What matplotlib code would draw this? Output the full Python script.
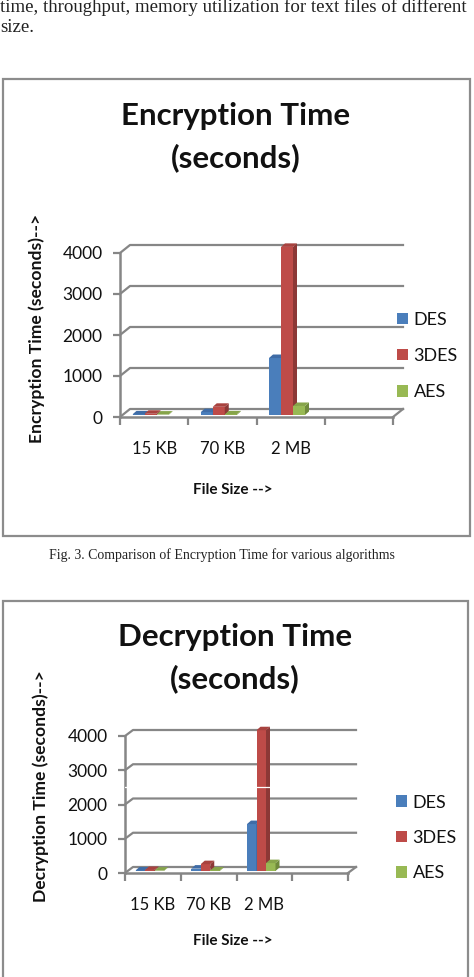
"""Two fake-3D clustered bar charts from a scanned page, Fig. 3 and the decryption one."""
import matplotlib
matplotlib.use("Agg")
import matplotlib.pyplot as plt
from matplotlib.patches import Polygon, Rectangle

W, H = 474, 977

categories = ["15 KB", "70 KB", "2 MB"]
series = ["DES", "3DES", "AES"]
yticks = [0, 1000, 2000, 3000, 4000]

enc_des = [15, 70, 1390]
enc_3des = [30, 200, 4100]
enc_aes = [10, 15, 220]

dec_des = [15, 70, 1370]
dec_3des = [30, 200, 4110]
dec_aes = [10, 15, 230]

front = ["#4a7ebb", "#be4b48", "#98b954"]
side = ["#37609a", "#8c3836", "#6f8a3c"]
top = ["#3f6ca6", "#a8423f", "#86a44a"]
GRAY = "#868686"

plt.rcParams["font.family"] = ["Lato", "DejaVu Sans"]

fig = plt.figure(figsize=(W / 100, H / 100), dpi=100)


def px_axes(x0, y0, x1, y1):
    # y0 is top, y1 is bottom, both in image pixels
    return fig.add_axes([x0 / W, 1 - y1 / H, (x1 - x0) / W, (y1 - y0) / H])


def fig_text(x, y, s, **kw):
    fig.text(x / W, 1 - y / H, s, **kw)


def draw_chart(box, plot, back, bar_off, bar_w, depth, values, legend_y):
    # page frame of the chart, kept behind the axes
    fig.add_artist(Rectangle((box[0] / W, 1 - box[3] / H), (box[2] - box[0]) / W,
                             (box[3] - box[1]) / H, transform=fig.transFigure,
                             fc="white", ec="#8c8c8c", lw=1.6, zorder=-1))

    ax = px_axes(*plot)
    ax.set_xlim(0, 4)
    ax.set_ylim(0, 4000)
    ax.patch.set_alpha(0)
    xs = (plot[2] - plot[0]) / 4  # pixels per category
    ys = (plot[3] - plot[1]) / 4000  # pixels per unit
    bx, by = back[0] / xs, back[1] / ys

    # back wall lines and the short diagonals to the front axis
    for t in yticks:
        ax.plot([0, bx, 4 + bx], [t, t + by, t + by], color=GRAY, lw=1.6,
                clip_on=False, zorder=1)
    ax.plot([4, 4 + bx], [0, by], color=GRAY, lw=1.6, clip_on=False, zorder=1)

    for s in ["top", "right"]:
        ax.spines[s].set_visible(False)
    for s in ["left", "bottom"]:
        ax.spines[s].set_color(GRAY)
        ax.spines[s].set_linewidth(1.8)

    ax.set_yticks(yticks)
    ax.set_xticks(range(5))
    ax.set_xticklabels([])
    ax.set_xticks([0.5, 1.5, 2.5], categories, minor=True)
    ax.tick_params(axis="x", which="major", length=6, width=1.6, color=GRAY, direction="out")
    ax.tick_params(axis="x", which="minor", length=0, pad=17, labelsize=12, labelcolor="#111111")
    ax.tick_params(axis="y", length=5, width=1.6, color=GRAY, pad=7.5, labelsize=12.5, labelcolor="#111111")

    # bars, front face from ax.bar and hand-shaded side and top
    w = bar_w / xs
    dx, dy = depth[0] / xs, depth[1] / ys
    base = 2 / ys
    handles = []
    for i, vals in enumerate(values):
        for j, v in enumerate(vals):
            x = j + bar_off / xs + i * w
            b = ax.bar(x, v, w, bottom=base, align="edge", color=front[i],
                       clip_on=False, zorder=3 + i)
            t = base + v
            ax.add_patch(Polygon([(x + w, base), (x + w + dx, base + dy),
                                  (x + w + dx, t + dy), (x + w, t)],
                                 fc=side[i], ec="none", clip_on=False, zorder=3 + i))
            ax.add_patch(Polygon([(x, t), (x + dx, t + dy), (x + w + dx, t + dy), (x + w, t)],
                                 fc=top[i], ec="none", clip_on=False, zorder=3 + i))
        handles.append(b[0])

    leg = ax.legend(handles, series, loc="center left", frameon=False, fontsize=13,
                    bbox_to_anchor=(legend_y[0] / W, 1 - legend_y[1] / H),
                    bbox_transform=fig.transFigure, borderpad=0, borderaxespad=0,
                    handlelength=0.62, handleheight=0.62, handletextpad=0.3,
                    labelspacing=legend_y[2], labelcolor="#111111")
    return ax, leg


# body text above the first chart
body = dict(family=["Liberation Serif", "DejaVu Serif"], color="#222222", fontsize=13.6, va="center")
fig_text(0, 7, "time, throughput, memory utilization for text files of different", **body)
fig_text(0, 27, "size.", **body)

draw_chart((3, 79, 470, 536), (120, 253, 393, 417), (10, 8), 12.5, 12, (4, 3.5),
           [enc_des, enc_3des, enc_aes], (397, 356, 1.12))
ax2, _ = draw_chart((3, 601, 468, 990), (125, 736, 348, 873), (8, 6), 10.5, 9.5, (4, 3.5),
                    [dec_des, dec_3des, dec_aes], (396, 838, 1.08))

# white scan seam across the second chart
ax2.axhline((873 - 787) / (137 / 4000), color="white", lw=0.9, zorder=9)

# chart titles and axis labels
for x, y, s, size, rot in [
    (236, 116, "Encryption Time", 22.5, 0),
    (236, 158, "(seconds)", 22.5, 0),
    (235, 637, "Decryption Time", 22.5, 0),
    (235, 679, "(seconds)", 22.5, 0),
    (233, 490, "File Size -->", 11, 0),
    (233, 941, "File Size -->", 11, 0),
    (37, 328, "Encryption Time (seconds)-->", 12.6, 90),
    (41, 786, "Decryption Time (seconds)-->", 12.6, 90),
]:
    fig_text(x, y, s, fontsize=size, fontweight="bold", rotation=rot,
             ha="center", va="center", color="#111111")

fig_text(222, 555, "Fig. 3. Comparison of Encryption Time for various algorithms",
         family=["Liberation Serif", "DejaVu Serif"], fontsize=10, color="#222222",
         ha="center", va="center")

fig.savefig("out.png", dpi=100)
